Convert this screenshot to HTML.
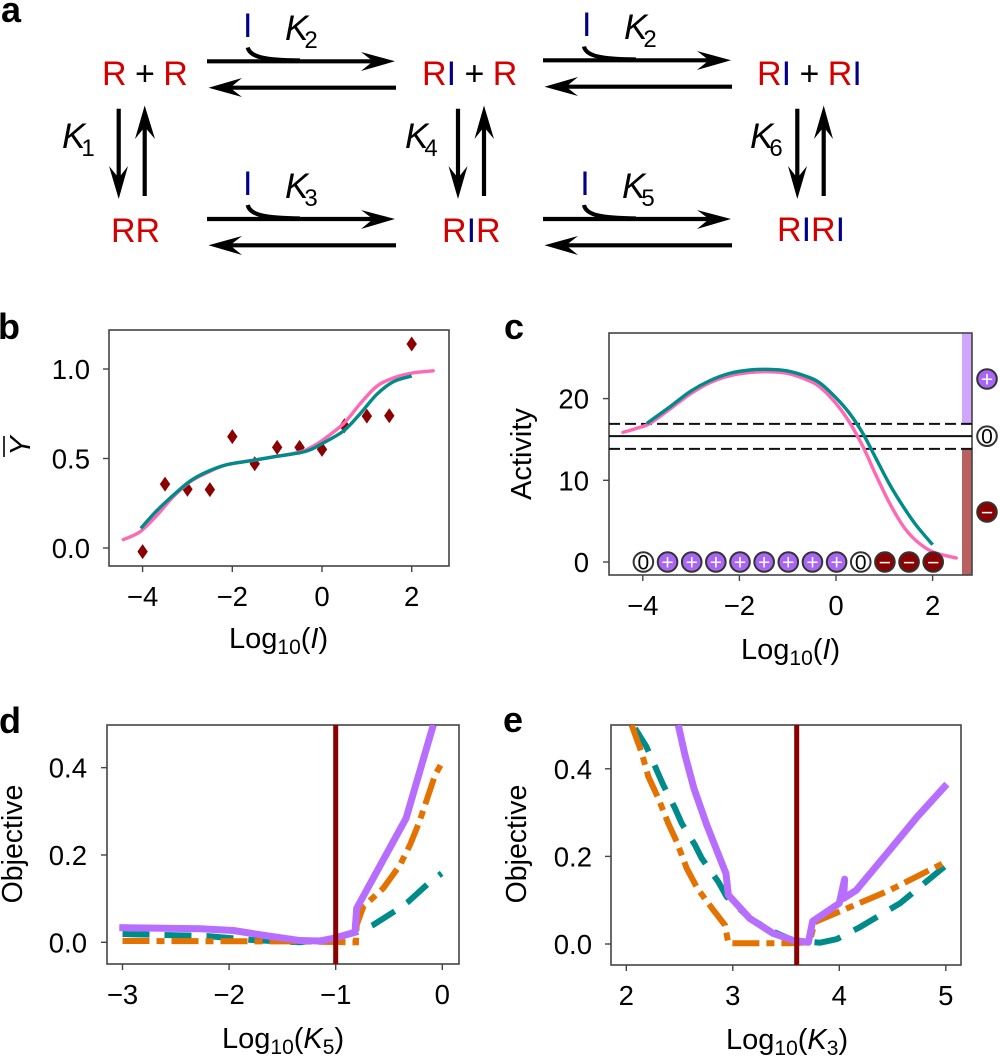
<!DOCTYPE html>
<html lang="en">
<head>
<meta charset="utf-8">
<title>Receptor dimer model and fits</title>
<style>
html,body{margin:0;padding:0;background:#fff;overflow:hidden;}
svg{display:block;font-family:"Liberation Sans",sans-serif;filter:blur(0.35px);}
</style>
</head>
<body>
<svg id="fig" xmlns="http://www.w3.org/2000/svg" width="1000" height="1057" viewBox="0 0 1000 1057">
<defs>
<clipPath id="clip-d"><rect x="107" y="725" width="352" height="239"/></clipPath>
<clipPath id="clip-e"><rect x="611" y="725" width="350" height="240"/></clipPath>
</defs>
<rect width="1000" height="1057" fill="#fff"/>

<g font-weight="bold" font-size="36" fill="#000">
<text x="1" y="22">a</text>
<text x="-2" y="339">b</text>
<text x="504" y="339">c</text>
<text x="-1" y="733">d</text>
<text x="503" y="732">e</text>
</g>

<g font-size="34">
<text x="102" y="85" fill="#d40000" word-spacing="-1">R <tspan fill="#000">+</tspan> R</text>
<text x="422" y="85" fill="#d40000" word-spacing="-1">R<tspan fill="#00008b">I</tspan> <tspan fill="#000">+</tspan> R</text>
<text x="757" y="85" fill="#d40000" word-spacing="-1">R<tspan fill="#00008b">I</tspan> <tspan fill="#000">+</tspan> R<tspan fill="#00008b">I</tspan></text>
<text x="111" y="242" fill="#d40000">RR</text>
<text x="442" y="242" fill="#d40000">R<tspan fill="#00008b">I</tspan>R</text>
<text x="777" y="241" fill="#d40000">R<tspan fill="#00008b">I</tspan>R<tspan fill="#00008b">I</tspan></text>

<g fill="#00008b" text-anchor="middle">
<text x="247.7" y="37">I</text>
<text x="586.7" y="36">I</text>
<text x="247.7" y="195">I</text>
<text x="585" y="195">I</text>
</g>

<g font-size="35" fill="#000" font-style="italic">
<text x="285" y="40">K<tspan font-size="24" font-style="normal" dy="8" dx="-4">2</tspan></text>
<text x="624" y="39">K<tspan font-size="24" font-style="normal" dy="8" dx="-4">2</tspan></text>
<text x="285" y="198">K<tspan font-size="24" font-style="normal" dy="8" dx="-4">3</tspan></text>
<text x="622" y="198">K<tspan font-size="24" font-style="normal" dy="8" dx="-4">5</tspan></text>
<text x="62" y="148">K<tspan font-size="24" font-style="normal" dy="8" dx="-4">1</tspan></text>
<text x="405" y="148">K<tspan font-size="24" font-style="normal" dy="8" dx="-4">4</tspan></text>
<text x="750" y="148">K<tspan font-size="24" font-style="normal" dy="8" dx="-4">6</tspan></text>
</g>

<g stroke="#000" stroke-width="4.2" fill="none">
<path d="M207 61.3H380"/>
<path d="M395 61.3L361 52L373 61.3L361 71Z" fill="#000" stroke="none"/>
<path d="M396 87.7H225"/>
<path d="M208.500 87.700L242 78L230 87.700L242 97Z" fill="#000" stroke="none"/>
<path d="M543 60.300H716"/>
<path d="M731 60.300L697 51L709 60.300L697 70Z" fill="#000" stroke="none"/>
<path d="M732 86.700H561"/>
<path d="M544.500 86.700L578 77L566 86.700L578 96Z" fill="#000" stroke="none"/>
<path d="M207 219H380"/>
<path d="M395 219L361 210L373 219L361 229Z" fill="#000" stroke="none"/>
<path d="M396 245.300H225"/>
<path d="M208.500 245.300L242 236L230 245.300L242 255Z" fill="#000" stroke="none"/>
<path d="M543 219H716"/>
<path d="M731 219L697 210L709 219L697 229Z" fill="#000" stroke="none"/>
<path d="M732 245.300H561"/>
<path d="M544.500 245.300L578 236L566 245.300L578 255Z" fill="#000" stroke="none"/>

<path d="M247.700 47.500C250 57 264 60 300 60.500"/>
<path d="M584 46.500C586 56 600 59 636 59.500"/>
<path d="M247.700 205C250 215 264 218 300 218.500"/>
<path d="M584 205C586 215 600 218 636 218.500"/>

<path d="M118.700 108.700V180"/>
<path d="M118.700 199L109 166L118.700 178L128 166Z" fill="#000" stroke="none"/>
<path d="M144.700 196V124"/>
<path d="M144.700 105.500L135 139L144.700 127L155 139Z" fill="#000" stroke="none"/>
<path d="M458 108.700V180"/>
<path d="M458 199L448.500 166L458 178L467.500 166Z" fill="#000" stroke="none"/>
<path d="M484 196V124"/>
<path d="M484 105.500L474.500 139L484 127L494 139Z" fill="#000" stroke="none"/>
<path d="M797.300 108.700V180"/>
<path d="M797.300 199L788 166L797.300 178L807 166Z" fill="#000" stroke="none"/>
<path d="M823.700 196V124"/>
<path d="M823.700 105.500L814 139L823.700 127L833 139Z" fill="#000" stroke="none"/>
</g>
</g>

<g font-size="29" fill="#000">
<text x="229" y="648">Log<tspan font-size="21" dy="6">10</tspan><tspan dy="-6">(</tspan><tspan font-style="italic">I</tspan>)</text>
<text x="741" y="659">Log<tspan font-size="21" dy="6">10</tspan><tspan dy="-6">(</tspan><tspan font-style="italic">I</tspan>)</text>
<text x="222" y="1048">Log<tspan font-size="21" dy="6">10</tspan><tspan dy="-6">(</tspan><tspan font-style="italic">K</tspan><tspan font-size="21" dy="6">5</tspan><tspan dy="-6">)</tspan></text>
<text x="726" y="1049">Log<tspan font-size="21" dy="6">10</tspan><tspan dy="-6">(</tspan><tspan font-style="italic">K</tspan><tspan font-size="21" dy="6">3</tspan><tspan dy="-6">)</tspan></text>
<text text-anchor="middle" font-style="italic" transform="translate(30 446) rotate(-90)">Y</text>
<line x1="4" y1="436" x2="4" y2="457" stroke="#000" stroke-width="1.6"/>
<text text-anchor="middle" transform="translate(531 454) rotate(-90)">Activity</text>
<text text-anchor="middle" font-size="28.500" transform="translate(22 844) rotate(-90)">Objective</text>
<text text-anchor="middle" font-size="28.500" transform="translate(526 844) rotate(-90)">Objective</text>
</g>

<g id="plots"></g>
</svg>

<script>
// Panel b
const bTickX = [-4, -2, 0, 2];
const bTickY = [0, 0.5, 1];
const bDataX = [-4, -3.5, -3, -2.5, -2, -1.5, -1, -0.5, 0, 0.5, 1, 1.5, 2];
const bDataY = [-0.02, 0.357, 0.328, 0.326, 0.622, 0.471, 0.562, 0.562, 0.551, 0.683, 0.737, 0.739, 1.14];
const bPinkX = [-4.43, -4.06, -3.69, -3.32, -2.94, -2.57, -2.13, -1.53, -1.01, -0.49, -0.25, 0, 0.48, 0.85, 1.22, 1.59, 2, 2.48];
const bPinkY = [0.047, 0.09, 0.18, 0.285, 0.37, 0.42, 0.465, 0.49, 0.512, 0.536, 0.562, 0.6, 0.695, 0.806, 0.903, 0.95, 0.977, 0.99];
const bTealX = [-4.04, -3.69, -3.32, -2.94, -2.57, -2.13, -1.53, -1.01, -0.49, -0.25, 0, 0.48, 0.85, 1.22, 1.59, 2];
const bTealY = [0.11, 0.207, 0.294, 0.374, 0.425, 0.465, 0.49, 0.512, 0.532, 0.55, 0.583, 0.654, 0.75, 0.858, 0.929, 0.961];

// Panel c
const cTickX = [-4, -2, 0, 2];
const cTickY = [0, 10, 20];
const cPinkX = [-4.41, -4.13, -3.85, -3.437, -3.02, -2.61, -2.195, -1.78, -1.433, -1.02, -0.606, -0.33, 0, 0.28, 0.56, 0.83, 1.11, 1.39, 1.66, 2, 2.49];
const cPinkY = [15.87, 16.36, 16.97, 18.73, 20.56, 21.95, 22.8, 23.2, 23.3, 23.1, 22.3, 21.4, 19.4, 17.1, 14.1, 10.6, 7.2, 4.4, 2.6, 1.25, 0.49];
const cTealX = [-3.917, -3.437, -3.023, -2.609, -2.195, -1.78, -1.433, -1.02, -0.606, -0.33, 0, 0.28, 0.56, 0.83, 1.11, 1.39, 1.66, 2];
const cTealY = [16.97, 19, 20.85, 22.2, 23.1, 23.5, 23.58, 23.4, 22.7, 21.9, 20.1, 18.2, 15.7, 12.65, 9.5, 6.8, 4.5, 2.12];
const cBase = 15.4;
const cUpper = 16.9;
const cLower = 13.85;
const cSignX = [-4, -3.5, -3, -2.5, -2, -1.5, -1, -0.5, 0, 0.5, 1, 1.5, 2];
const cSigns = ['0', '+', '+', '+', '+', '+', '+', '+', '+', '0', '-', '-', '-'];

// Panel d
const dTickX = [-3, -2, -1, 0];
const dTickY = [0, 0.2, 0.4];
const dTrueK = -1;
const dPurpleX = [-3.03, -2.27, -1.96, -1.65, -1.335, -1.15, -1.02, -0.819, -0.803, -0.34, -0.084];
const dPurpleY = [0.0336, 0.031, 0.027, 0.015, 0.004, 0.003, 0.009, 0.023, 0.078, 0.284, 0.498];
const dOrangeX = [-3, -1.335, -0.81, -0.803, -0.741, -0.553, -0.397, -0.303, -0.215, -0.146, -0.068, -0.006];
const dOrangeY = [0.003, 0.002, 0, 0.04, 0.0815, 0.124, 0.177, 0.223, 0.276, 0.326, 0.383, 0.41];
const dTealX = [-3, -2.21, -1.77, -1.335, -1.02, -0.788, -0.647, -0.428, -0.319, -0.13, -0.006];
const dTealY = [0.019, 0.0145, 0.005, 0, 0.009, 0.024, 0.04, 0.074, 0.093, 0.135, 0.158];

// Panel e
const eTickX = [2, 3, 4, 5];
const eTickY = [0, 0.2, 0.4];
const eTrueK = 3.6;
const ePurpleX = [2.488, 2.551, 2.635, 2.755, 2.936, 2.958, 3.161, 3.38, 3.57, 3.71, 3.75, 4, 4.05, 4.04, 4.16, 4.475, 4.73, 5.01];
const ePurpleY = [0.5, 0.4315, 0.3555, 0.272, 0.161, 0.112, 0.058, 0.024, 0.008, 0.004, 0.052, 0.093, 0.148, 0.104, 0.123, 0.215, 0.29, 0.365];
const eOrangeX = [2.05, 2.145, 2.207, 2.3, 2.394, 2.473, 2.567, 2.667, 2.817, 2.927, 2.958, 3.54, 3.72, 3.77, 4.04, 4.475, 4.99];
const eOrangeY = [0.5, 0.436, 0.382, 0.333, 0.2755, 0.2336, 0.173, 0.127, 0.0776, 0.043, 0.0016, 0.0016, 0.004, 0.05, 0.078, 0.123, 0.186];
const eTealX = [2.082, 2.19, 2.285, 2.347, 2.457, 2.52, 2.645, 2.708, 2.864, 2.943, 3.161, 3.38, 3.57, 3.82, 3.975, 4.19, 4.57, 4.99];
const eTealY = [0.4925, 0.45, 0.397, 0.363, 0.31, 0.2755, 0.226, 0.1957, 0.142, 0.108, 0.058, 0.028, 0.008, 0.003, 0.011, 0.038, 0.093, 0.177];

const NS = 'http://www.w3.org/2000/svg';
const plots = document.getElementById('plots');
const PINK = '#ff69b4', TEAL = '#008b8b', ORANGE = '#e37200', PURPLE = '#b76eff', DARKRED = '#8b0000', AXIS = '#444';

function make(tag, parent, attrs) {
  const el = document.createElementNS(NS, tag);
  for (const k in attrs) el.setAttribute(k, attrs[k]);
  parent.appendChild(el);
  return el;
}
function fmt(v) {
  return String(v).replace('-', '\u2212');
}
function polyPath(xs, ys, sx, sy) {
  return xs.map((x, i) => (i ? 'L' : 'M') + sx(x).toFixed(2) + ' ' + sy(ys[i]).toFixed(2)).join('');
}
function smoothPath(xs, ys, sx, sy) {
  const p = xs.map((x, i) => [sx(x), sy(ys[i])]);
  let d = 'M' + p[0][0].toFixed(2) + ' ' + p[0][1].toFixed(2);
  for (let i = 0; i < p.length - 1; i++) {
    const a = p[Math.max(i - 1, 0)], b = p[i], c = p[i + 1], e = p[Math.min(i + 2, p.length - 1)];
    d += 'C' + (b[0] + (c[0] - a[0]) / 6).toFixed(2) + ' ' + (b[1] + (c[1] - a[1]) / 6).toFixed(2) + ' ' +
      (c[0] - (e[0] - b[0]) / 6).toFixed(2) + ' ' + (c[1] - (e[1] - b[1]) / 6).toFixed(2) + ' ' +
      c[0].toFixed(2) + ' ' + c[1].toFixed(2);
  }
  return d;
}
function drawAxes(g, box, sx, sy, ticksX, ticksY, xBase, yRight, decimals) {
  ticksX.forEach(v => {
    const t = make('line', g, {x1: sx(v), x2: sx(v), y1: box.b, y2: box.b + 6, stroke: AXIS, 'stroke-width': 1.4});
    
    
    const l = make('text', g, {x: sx(v), y: xBase, 'text-anchor': 'middle', 'font-size': 27.5, fill: '#000'});
    
    
    l.textContent = fmt(v);
  });
  ticksY.forEach(v => {
    const t = make('line', g, {x1: box.l - 6, x2: box.l, y1: sy(v), y2: sy(v), stroke: AXIS, 'stroke-width': 1.4});
    
    
    const l = make('text', g, {x: yRight, y: sy(v) + 10, 'text-anchor': 'end', 'font-size': 27.5, fill: '#000'});
    
    
    l.textContent = decimals ? v.toFixed(decimals) : String(v);
  });
}
function drawFrame(g, box) {
  const r = make('rect', g, {x: box.l, y: box.t, width: box.r - box.l, height: box.b - box.t, fill: 'none', stroke: AXIS, 'stroke-width': 1.6});
  
  
}
function drawBadge(g, cx, cy, sign) {
  const fill = sign === '+' ? '#a966f2' : sign === '-' ? DARKRED : '#fff';
  const c = make('circle', g, {cx: cx, cy: cy, r: 9.8, fill: fill, stroke: '#333', 'stroke-width': 2});
  
  
  const t = make('text', g, {x: cx, y: cy + (sign === '0' ? 7.500 : 7.500), 'text-anchor': 'middle', 'font-size': 21, fill: sign === '0' ? '#000' : '#fff'});
  
  
  t.textContent = sign === '-' ? '\u2212' : sign;
}

// ---------- Panel b ----------
const xB = v => 322 + v * 44.85;
const yB = v => 548 - v * 179;
const boxB = {l: 109, r: 449, t: 330, b: 566};
const gB = make('g', plots, {});


drawFrame(gB, boxB);
drawAxes(gB, boxB, xB, yB, bTickX, bTickY, 606, 90, 1);
bDataX.forEach((x, i) => {
  const px = xB(x), py = yB(bDataY[i]);
  const d = make('path', gB, {d: 'M' + px + ' ' + (py - 7.5) + 'L' + (px + 5.2) + ' ' + py + 'L' + px + ' ' + (py + 7.5) + 'L' + (px - 5.2) + ' ' + py + 'Z', fill: DARKRED});
  
  
});
const bPink = make('path', gB, {d: smoothPath(bPinkX, bPinkY, xB, yB), fill: 'none', stroke: PINK, 'stroke-width': 3.4, 'stroke-linecap': 'round'});


const bTeal = make('path', gB, {d: smoothPath(bTealX, bTealY, xB, yB), fill: 'none', stroke: TEAL, 'stroke-width': 3.4});



// ---------- Panel c ----------
const xC = v => 836 + v * 48.3;
const yC = v => 562 - v * 8.17;
const boxC = {l: 609, r: 972, t: 333, b: 575};
const gC = make('g', plots, {});


const barTop = make('rect', gC, {x: 962, y: boxC.t, width: 10, height: yC(cUpper) - boxC.t, fill: '#cfa6fa'});


const barBottom = make('rect', gC, {x: 962, y: yC(cLower), width: 10, height: boxC.b - yC(cLower), fill: '#b96161'});


drawFrame(gC, boxC);
drawAxes(gC, boxC, xC, yC, cTickX, cTickY, 615, 589, 0);
const cBaseLine = make('line', gC, {x1: boxC.l, x2: boxC.r, y1: yC(cBase), y2: yC(cBase), stroke: '#111', 'stroke-width': 2});


const cUpperLine = make('line', gC, {x1: boxC.l, x2: boxC.r, y1: yC(cUpper), y2: yC(cUpper), stroke: '#111', 'stroke-width': 2, 'stroke-dasharray': '11 5'});


const cLowerLine = make('line', gC, {x1: boxC.l, x2: boxC.r, y1: yC(cLower), y2: yC(cLower), stroke: '#111', 'stroke-width': 2, 'stroke-dasharray': '11 5'});


const cPink = make('path', gC, {d: smoothPath(cPinkX, cPinkY, xC, yC), fill: 'none', stroke: PINK, 'stroke-width': 3.4, 'stroke-linecap': 'round'});


const cTeal = make('path', gC, {d: smoothPath(cTealX, cTealY, xC, yC), fill: 'none', stroke: TEAL, 'stroke-width': 3.4});


cSignX.forEach((x, i) => drawBadge(gC, xC(x) + 0.6, yC(0), cSigns[i]));
drawBadge(gC, 987, 379, '+');
drawBadge(gC, 987, yC(cBase), '0');
drawBadge(gC, 987, 512, '-');

// ---------- Panels d and e ----------
function objectivePanel(name, clipId, box, sx, sy, tx, ty, xBase, yRight, teal, orange, purple, trueK) {
  const g = make('g', plots, {});
  
  
  drawFrame(g, box);
  drawAxes(g, box, sx, sy, tx, ty, xBase, yRight, 1);
  const clip = make('g', g, {'clip-path': 'url(#' + clipId + ')'});
  
  
  const t = make('path', clip, {d: polyPath(teal[0], teal[1], sx, sy), fill: 'none', stroke: TEAL, 'stroke-width': 6, 'stroke-dasharray': '27 15'});
  
  
  const o = make('path', clip, {d: polyPath(orange[0], orange[1], sx, sy), fill: 'none', stroke: ORANGE, 'stroke-width': 6, 'stroke-dasharray': '27 7 8 7'});
  
  
  const p = make('path', clip, {d: polyPath(purple[0], purple[1], sx, sy), fill: 'none', stroke: PURPLE, 'stroke-width': 7, 'stroke-linejoin': 'round', 'stroke-linecap': 'butt'});
  
  
  const v = make('line', g, {x1: sx(trueK), x2: sx(trueK), y1: box.t, y2: box.b, stroke: DARKRED, 'stroke-width': 5});
  
  
}
const xD = v => 442.3 + v * 106.6;
const yD = v => 942.3 - v * 436.6;
objectivePanel('panel-d-chart', 'clip-d', {l: 107, r: 459, t: 725, b: 964}, xD, yD, dTickX, dTickY, 1004, 87, [dTealX, dTealY], [dOrangeX, dOrangeY], [dPurpleX, dPurpleY], dTrueK);
const xE = v => 626.3 + (v - 2) * 106.5;
const yE = v => 944 - v * 438;
objectivePanel('panel-e-chart', 'clip-e', {l: 611, r: 961, t: 725, b: 965}, xE, yE, eTickX, eTickY, 1005, 592, [eTealX, eTealY], [eOrangeX, eOrangeY], [ePurpleX, ePurpleY], eTrueK);
</script>
</body>
</html>
